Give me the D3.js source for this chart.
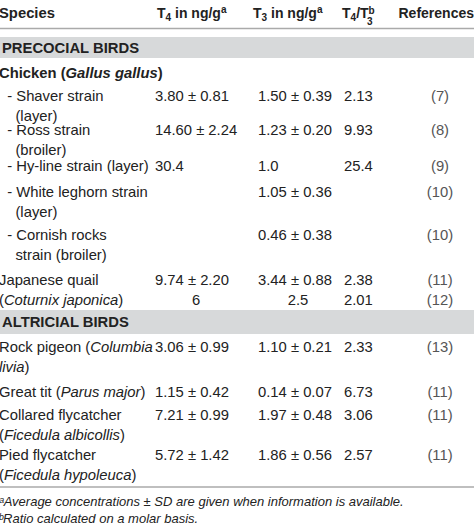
<!DOCTYPE html><html><head><meta charset="utf-8"><script src="https://cdn.jsdelivr.net/npm/d3@7"></script>
<style>body{margin:0;background:#fff}text{font-family:"Liberation Sans",Arial,sans-serif;font-size:14.8px;fill:#222}</style></head><body><script>
const species=[["Chicken (*Gallus gallus*)"],["  - Shaver strain","    (layer)"],["  - Ross strain","    (broiler)"],["  - Hy-line strain (layer)"],["  - White leghorn strain","    (layer)"],["  - Cornish rocks","    strain (broiler)"],["Japanese quail","(*Coturnix japonica*)"],["Rock pigeon (*Columbia*","*livia*)"],["Great tit (*Parus major*)"],["Collared flycatcher","(*Ficedula albicollis*)"],["Pied flycatcher","(*Ficedula hypoleuca*)"]];
const groups=["PRECOCIAL BIRDS","ALTRICIAL BIRDS"];
const t4=["", "3.80 ± 0.81","14.60 ± 2.24","30.4","","","9.74 ± 2.20|6","3.06 ± 0.99","1.15 ± 0.42","7.21 ± 0.99","5.72 ± 1.42"];
const t3=["", "1.50 ± 0.39","1.23 ± 0.20","1.0","1.05 ± 0.36","0.46 ± 0.38","3.44 ± 0.88|2.5","1.10 ± 0.21","0.14 ± 0.07","1.97 ± 0.48","1.86 ± 0.56"];
const ratio=["", "2.13","9.93","25.4","","","2.38|2.01","2.33","6.73","3.06","2.57"];
const refs=["", "(7)","(8)","(9)","(10)","(10)","(11)|(12)","(13)","(11)","(11)","(11)"];
const footnotes=["ᵃAverage concentrations ± SD are given when information is available.","ᵇRatio calculated on a molar basis."];

const W=474,H=529;
const svg=d3.select("body").append("svg").attr("width",W).attr("height",H);
const x={sp:-1,t4:155,t3:258,r:344,ref:440};
const rowY=[78,101,135,171,197,240,285,352,397,420,460];
const LS=19.5;
function rich(t,str,bold){
  str.split("*").forEach((s,i)=>{ if(s) t.append("tspan").text(s).style("font-style",i%2?"italic":"normal").style("font-weight",bold?"bold":null);});
}
const hy=18;
svg.append("text").attr("x",x.sp).attr("y",hy).style("font-weight","bold").text("Species");
function hdr(xx,sub,sup){const t=svg.append("text").attr("x",xx).attr("y",hy).style("font-weight","bold").style("font-size","14px");
 t.append("tspan").text("T");t.append("tspan").text(sub).attr("dy",3).style("font-size","10px");
 t.append("tspan").text(" in ng/g").attr("dy",-3);t.append("tspan").text(sup).attr("dy",-5).style("font-size","10px");}
hdr(x.t4+2,"4","a");hdr(x.t3-5,"3","a");
{const t=svg.append("text").attr("x",x.r-2).attr("y",hy).style("font-weight","bold").style("font-size","14px");
 t.append("tspan").text("T");t.append("tspan").text("4").attr("dy",3).style("font-size","10px");
 t.append("tspan").text("/T").attr("dy",-3);
 t.append("tspan").text("b").attr("dy",-4).style("font-size","10px");
 t.append("tspan").text("3").attr("x",x.r+23).attr("dy",11).style("font-size","10px");}
svg.append("text").attr("x",W).attr("y",hy).attr("text-anchor","end").style("font-weight","bold").style("font-size","14px").text("References");
svg.append("line").attr("x1",0).attr("x2",W).attr("y1",28.5).attr("y2",28.5).attr("stroke","#aaa").attr("stroke-width",1.5);
[[groups[0],37,58],[groups[1],310,334]].forEach(([g,y0,y1])=>{
 svg.append("rect").attr("x",0).attr("y",y0).attr("width",W).attr("height",y1-y0).attr("fill","#d7d9da");
 svg.append("text").attr("x",2).attr("y",(y0+y1)/2+5).style("font-weight","bold").text(g);});
species.forEach((lines,i)=>{
 lines.forEach((l,j)=>{const t=svg.append("text").attr("x",x.sp).attr("y",rowY[i]+j*LS).attr("xml:space","preserve").style("white-space","pre");rich(t,l,i===0);});
 [[t4,x.t4,"start"],[t3,x.t3,"start"],[ratio,x.r,"start"],[refs,x.ref,"middle"]].forEach(([arr,xx,a])=>{
  arr[i].split("|").forEach((v,j)=>{ if(!v) return; const vv=(arr===t4&&j===1)||(arr===t3&&j===1);
   svg.append("text").attr("x",vv?xx+(arr===t4?41:40):xx).attr("y",rowY[i]+j*LS).attr("text-anchor",vv?"middle":a).style("fill",arr===refs?"#555":null).text(v);});
 });
});
svg.append("line").attr("x1",0).attr("x2",W).attr("y1",487).attr("y2",487).attr("stroke","#aaa").attr("stroke-width",1.5);
footnotes.forEach((f,i)=>{svg.append("text").attr("x",-1).attr("y",506+i*17).style("font-style","italic").style("font-size","13px").text(f);});
</script></body></html>
